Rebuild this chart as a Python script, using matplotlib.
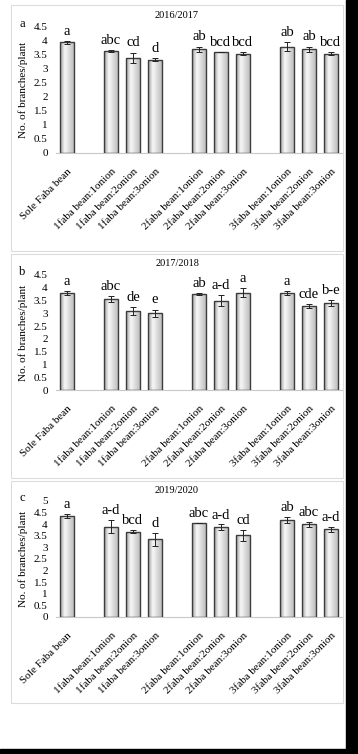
import numpy as np
import matplotlib.pyplot as plt
from matplotlib.patches import Rectangle

plt.rcParams['font.family'] = ['Liberation Serif', 'DejaVu Serif']

# treatments and slot positions (empty slot between groups)
treatments = ["Sole Faba bean",
              "1faba bean:1onion", "1faba bean:2onion", "1faba bean:3onion",
              "2faba bean:1onion", "2faba bean:2onion", "2faba bean:3onion",
              "3faba bean:1onion", "3faba bean:2onion", "3faba bean:3onion"]
slots = [0, 2, 3, 4, 6, 7, 8, 10, 11, 12]

seasons = ["2016/2017", "2017/2018", "2019/2020"]
panel_tags = ["a", "b", "c"]

mean_1617 = [3.95, 3.65, 3.40, 3.33, 3.70, 3.60, 3.55, 3.80, 3.70, 3.55]
err_1617 = [0.05, 0.03, 0.18, 0.05, 0.10, 0.00, 0.05, 0.15, 0.10, 0.05]
let_1617 = ["a", "abc", "cd", "d", "ab", "bcd", "bcd", "ab", "ab", "bcd"]

mean_1718 = [3.80, 3.55, 3.10, 3.00, 3.75, 3.50, 3.80, 3.80, 3.28, 3.40]
err_1718 = [0.08, 0.12, 0.15, 0.15, 0.04, 0.20, 0.18, 0.08, 0.07, 0.12]
let_1718 = ["a", "abc", "de", "e", "ab", "a-d", "a", "a", "cde", "b-e"]

mean_1920 = [4.35, 3.90, 3.68, 3.35, 4.05, 3.87, 3.52, 4.18, 4.00, 3.78]
err_1920 = [0.08, 0.30, 0.07, 0.28, 0.00, 0.12, 0.23, 0.12, 0.10, 0.12]
let_1920 = ["a", "a-d", "bcd", "d", "abc", "a-d", "cd", "ab", "abc", "a-d"]

means = [mean_1617, mean_1718, mean_1920]
errs = [err_1617, err_1718, err_1920]
letters = [let_1617, let_1718, let_1920]
ymax = [4.5, 4.5, 5.0]

W, H = 358, 754
fig = plt.figure(figsize=(W / 100, H / 100), dpi=100)

# horizontal shading for the bars (dark edges, light stripe left of centre)
shade = np.interp(np.linspace(0, 1, 64), [0, 0.35, 1], [0.62, 0.97, 0.74])[None, :]

# pixel geometry: (axes top, axes bottom, box top, box bottom)
geom = [(27, 153, 5, 251), (275, 390, 254, 478), (501, 617, 481, 703)]

for k in range(3):
    ytop, ybot, btop, bbot = geom[k]
    fig.patches.append(Rectangle((11 / W, 1 - bbot / H), 332 / W, (bbot - btop) / H,
                                 transform=fig.transFigure, fill=False,
                                 edgecolor='#dcdcdc', lw=0.8))
    ax = fig.add_axes([56 / W, 1 - ybot / H, 287 / W, (ybot - ytop) / H])
    bars = ax.bar(slots, means[k], width=0.6, color='#d3d3d3', edgecolor='#3c3c3c', lw=1.0,
                  yerr=errs[k], capsize=2.5,
                  error_kw=dict(ecolor='#222222', elinewidth=0.7, capthick=0.7, zorder=4))
    for b in bars:
        x0, y0, w, h = b.get_x(), b.get_y(), b.get_width(), b.get_height()
        im = ax.imshow(shade, cmap='gray', vmin=0, vmax=1, aspect='auto',
                       extent=(x0, x0 + w, y0, y0 + h), zorder=2.5)
        im.set_clip_path(b)
        b.set_zorder(3)
        b.set_facecolor('none')
    for x, m, e, t in zip(slots, means[k], errs[k], letters[k]):
        ax.text(x, m + e + 0.12, t, ha='center', va='bottom', fontsize=10.5)
    ax.set_xlim(-0.5, 12.55)
    ax.set_ylim(0, ymax[k])
    ax.set_yticks(np.arange(0, ymax[k] + 0.01, 0.5))
    ax.set_yticklabels([f"{v:g}" for v in np.arange(0, ymax[k] + 0.01, 0.5)], fontsize=8)
    ax.set_xticks(slots)
    ax.set_xticklabels(treatments, rotation=45, ha='right', rotation_mode='anchor', fontsize=8)
    ax.tick_params(length=0, pad=6)
    ax.tick_params(axis='x', pad=10)
    for s in ['top', 'right', 'left']:
        ax.spines[s].set_visible(False)
    ax.spines['bottom'].set_color('#c8c8c8')
    ax.set_ylabel("No. of branches/plant", fontsize=8, labelpad=4)
    fig.text(177 / W, 1 - (btop + 10) / H, seasons[k], ha='center', va='center', fontsize=7.5)
    fig.text(22 / W, 1 - (ytop - 3) / H, panel_tags[k], ha='center', va='center', fontsize=9)

# dark frame on right and bottom edges of the scan
fig.patches.append(Rectangle((346 / W, 0), 12 / W, 1, transform=fig.transFigure, color='black'))
fig.patches.append(Rectangle((0, 0), 1, 5 / H, transform=fig.transFigure, color='black'))

fig.savefig("out.png", dpi=100)
